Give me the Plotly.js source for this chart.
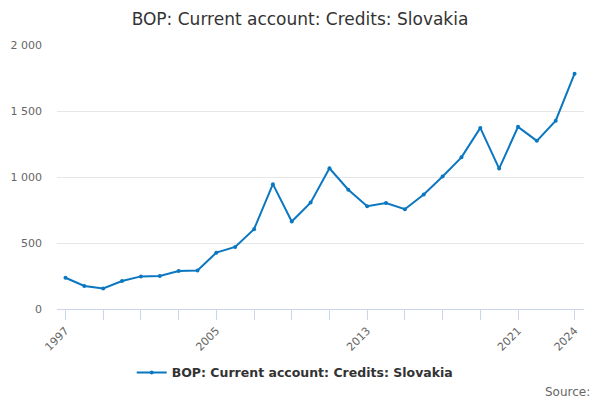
<!DOCTYPE html>
<html>
<head>
<meta charset="utf-8">
<script src="https://cdn.plot.ly/plotly-3.0.1.min.js"></script>
<style>
  html, body { margin: 0; padding: 0; background: #fff; }
  #chart { width: 600px; height: 400px; }
</style>
</head>
<body>
<div id="chart"></div>
<script>
// Slovakia current account credits
var years = [1997, 1998, 1999, 2000, 2001, 2002, 2003, 2004, 2005, 2006,
             2007, 2008, 2009, 2010, 2011, 2012, 2013, 2014, 2015, 2016,
             2017, 2018, 2019, 2020, 2021, 2022, 2023, 2024];
var credits = [237, 174, 156, 212, 247, 250, 287, 292, 427, 470,
               605, 946, 663, 806, 1066, 904, 778, 803, 756, 868,
               1004, 1149, 1372, 1064, 1380, 1274, 1427, 1783];

var tickYears = [1997, 1999, 2001, 2003, 2005, 2007, 2009, 2011, 2013,
                 2015, 2017, 2019, 2021, 2024];
var tickLabels = ['1997', '', '', '', '2005', '', '', '', '2013',
                  '', '', '', '2021', '2024'];

var seriesName = 'BOP: Current account: Credits: Slovakia';
var lineColor = '#0a77c0';

var data = [{
  type: 'scatter',
  mode: 'lines+markers',
  x: years,
  y: credits,
  name: seriesName,
  line: { color: lineColor, width: 2 },
  marker: { color: lineColor, size: 4 }
}];

var layout = {
  width: 600,
  height: 400,
  font: { family: 'DejaVu Sans, sans-serif', color: '#666' },
  separators: '. ',
  title: {
    text: seriesName,
    font: { size: 17, color: '#333' },
    x: 0.5,
    xanchor: 'center',
    y: 0.952,
    yanchor: 'middle'
  },
  margin: { l: 57, r: 16, t: 45, b: 88 },
  showlegend: true,
  legend: {
    orientation: 'h',
    x: 0.452,
    xanchor: 'center',
    y: -0.185,
    yanchor: 'top',
    itemwidth: 30,
    font: { size: 12.5, color: '#333', weight: 'bold' }
  },
  xaxis: {
    range: [1996.55, 2024.5],
    automargin: false,
    tickmode: 'array',
    tickvals: tickYears,
    ticktext: tickLabels,
    tickangle: -45,
    ticks: 'outside',
    ticklen: 10,
    tickcolor: '#ccd6eb',
    showline: true,
    linecolor: '#ccd6eb',
    showgrid: false,
    zeroline: false,
    tickfont: { size: 11, color: '#666' }
  },
  yaxis: {
    range: [0, 2000],
    automargin: false,
    tickvals: [0, 500, 1000, 1500, 2000],
    separatethousands: true,
    tickformat: ',d',
    showgrid: true,
    gridcolor: '#e6e6e6',
    zeroline: false,
    ticks: '',
    ticklabelstandoff: 14,
    tickfont: { size: 11, color: '#666' }
  },
  annotations: [{
    text: 'Source:',
    xref: 'paper',
    yref: 'paper',
    x: 1.015,
    xanchor: 'right',
    y: -0.28,
    yanchor: 'top',
    showarrow: false,
    font: { size: 12, color: '#666' }
  }],
  plot_bgcolor: '#fff',
  paper_bgcolor: '#fff'
};

Plotly.newPlot('chart', data, layout, { displayModeBar: false });
</script>
</body>
</html>
